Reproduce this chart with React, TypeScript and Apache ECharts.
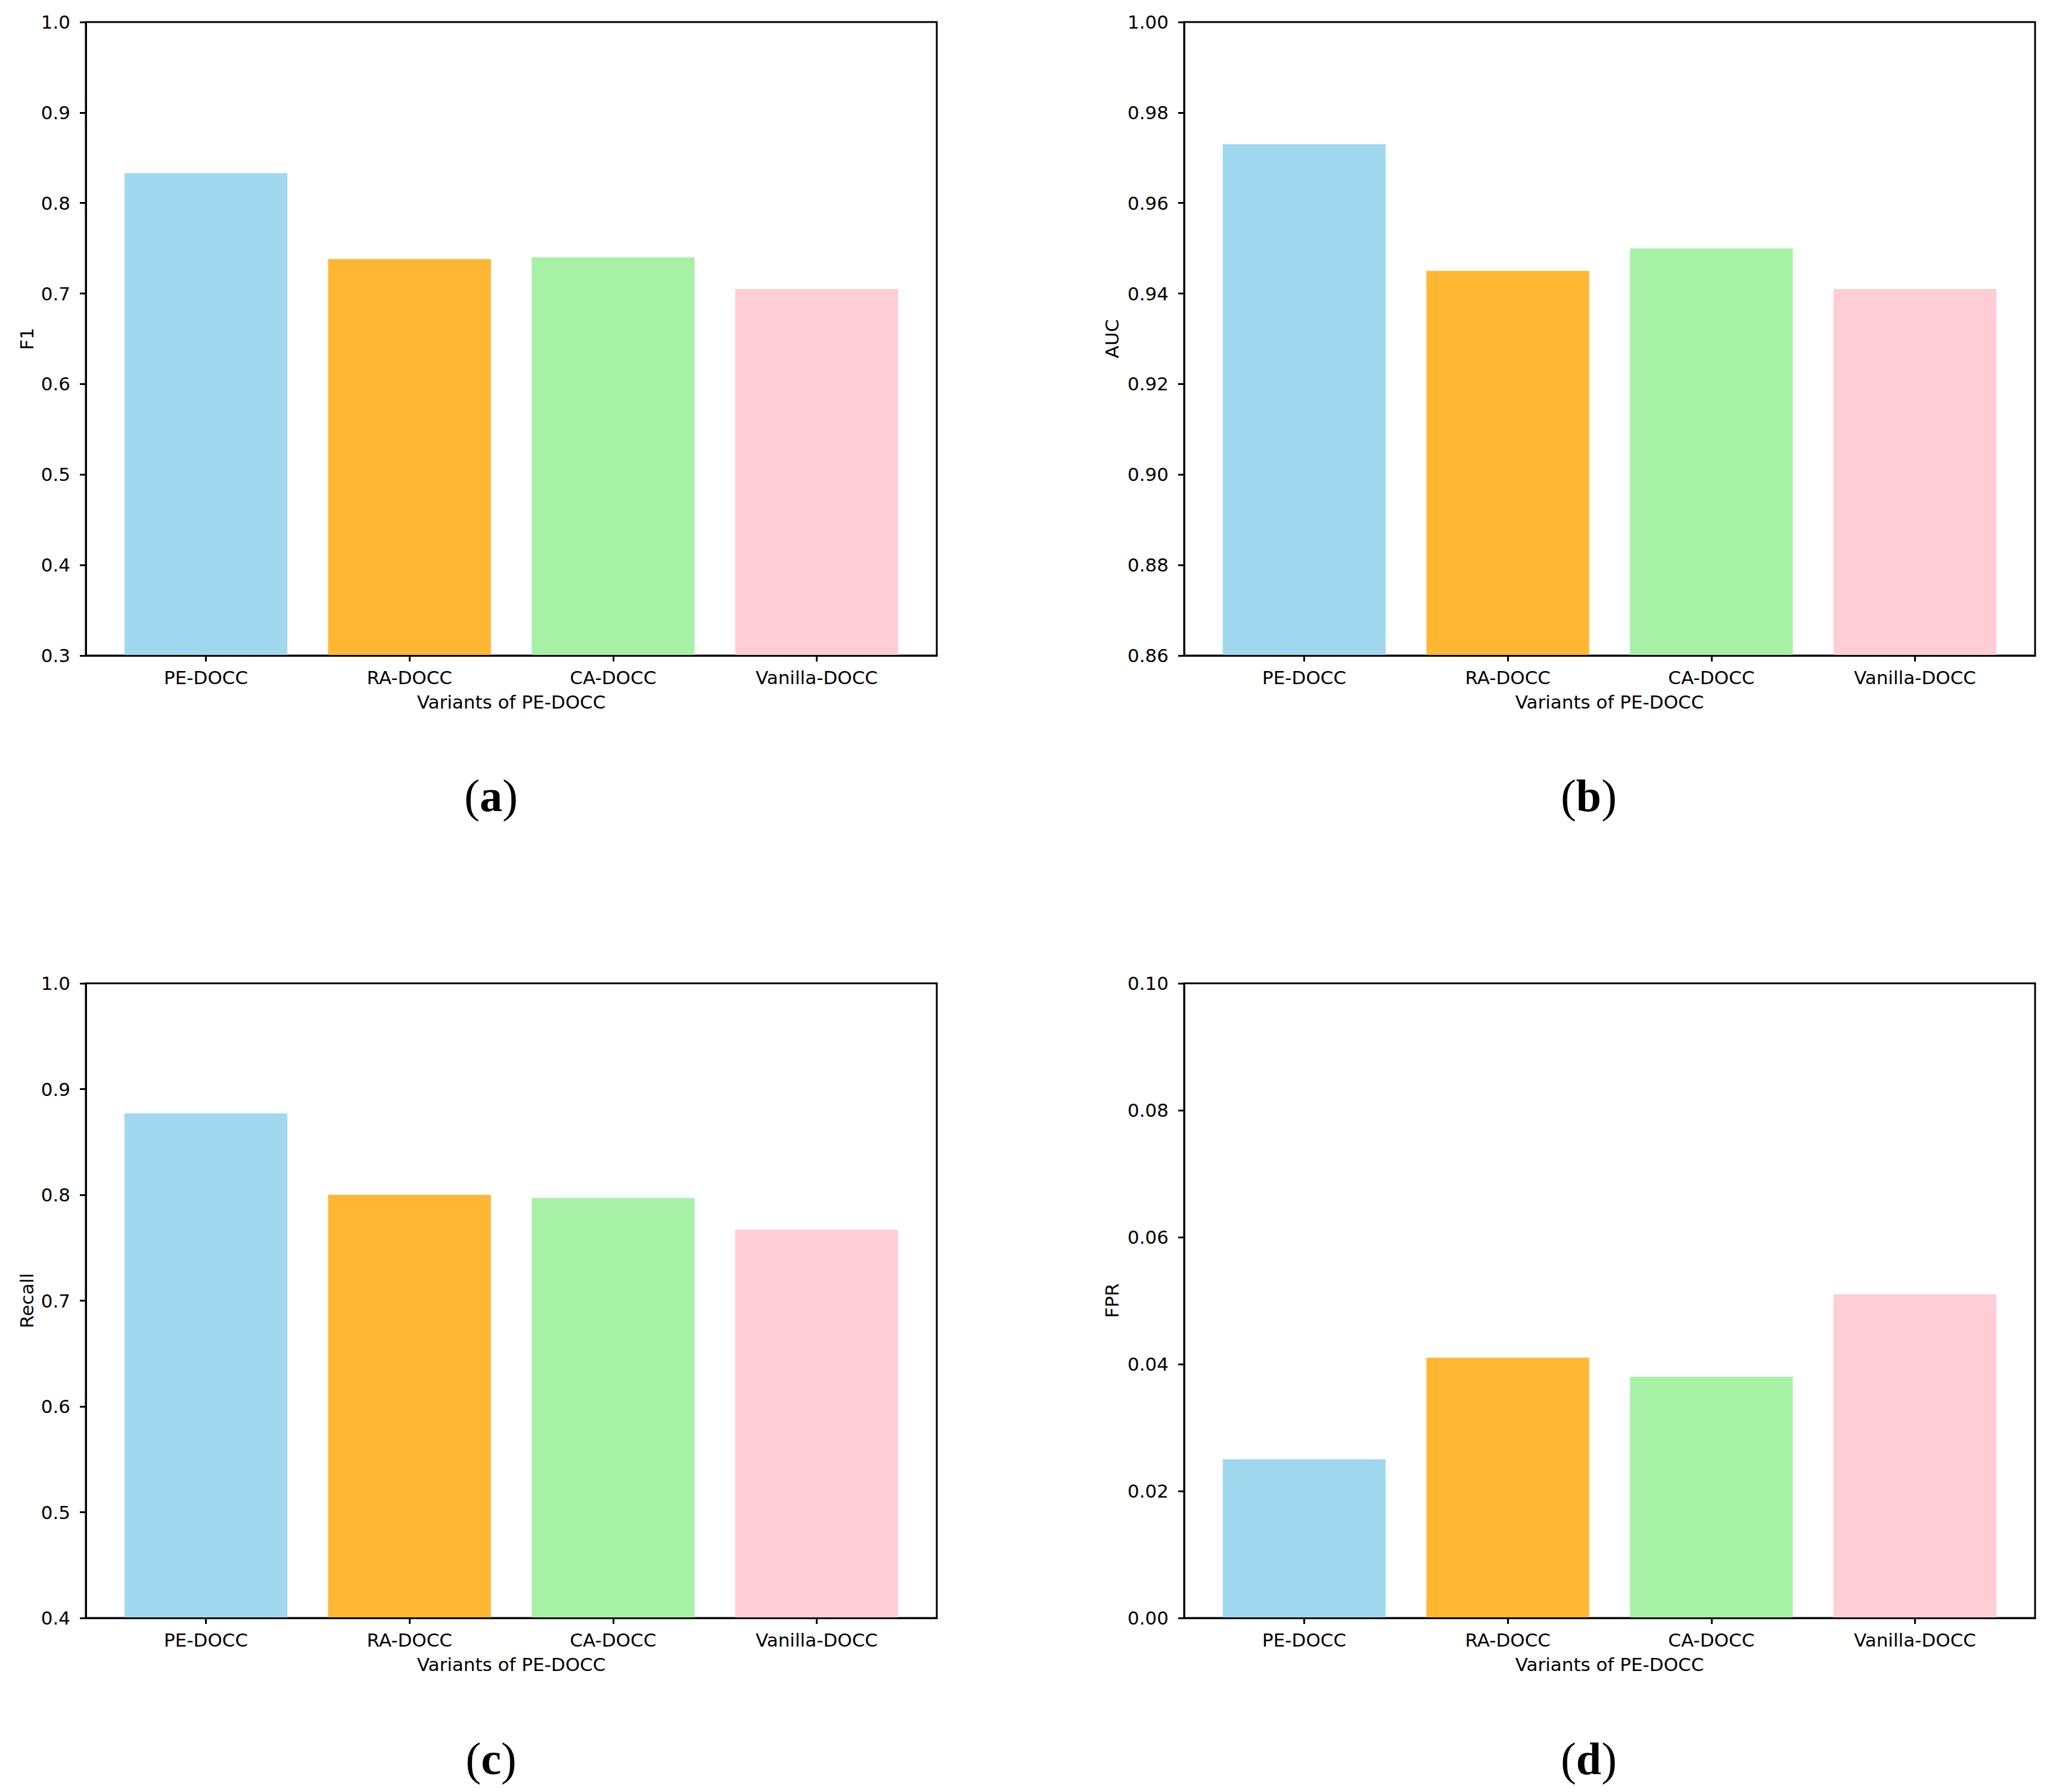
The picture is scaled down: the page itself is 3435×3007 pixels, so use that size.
import { useEffect, useRef } from "react";
import * as echarts from "echarts";

const CATEGORIES = ["PE-DOCC", "RA-DOCC", "CA-DOCC", "Vanilla-DOCC"];
const BAR_COLORS = ["#A0D8EF", "#FFB733", "#A6F1A6", "#FFCDD5"];

const F1_VALUES = [0.833, 0.738, 0.74, 0.705];
const AUC_VALUES = [0.973, 0.945, 0.95, 0.941];
const RECALL_VALUES = [0.877, 0.8, 0.797, 0.767];
const FPR_VALUES = [0.025, 0.041, 0.038, 0.051];

const X_NAME = "Variants of PE-DOCC";
const FONT = "DejaVu Sans";

const PANELS = [
  { metric: "F1", values: F1_VALUES, min: 0.3, max: 1.0, interval: 0.1, digits: 1, left: 144, top: 37, height: 1063, nameGap: 84, caption: "a", capX: 824, capY: 1335 },
  { metric: "AUC", values: AUC_VALUES, min: 0.86, max: 1.0, interval: 0.02, digits: 2, left: 1987, top: 37, height: 1063, nameGap: 106, caption: "b", capX: 2666, capY: 1335 },
  { metric: "Recall", values: RECALL_VALUES, min: 0.4, max: 1.0, interval: 0.1, digits: 1, left: 144, top: 1650, height: 1065, nameGap: 84, caption: "c", capX: 824, capY: 2951 },
  { metric: "FPR", values: FPR_VALUES, min: 0, max: 0.1, interval: 0.02, digits: 2, left: 1987, top: 1650, height: 1065, nameGap: 106, caption: "d", capX: 2666, capY: 2951 }
];

const PLOT_WIDTH = 1428;

export default function App() {
  const rootRef = useRef<HTMLDivElement | null>(null);

  useEffect(() => {
    if (!rootRef.current) return undefined;
    const chart = echarts.init(rootRef.current, undefined, { renderer: "svg" });

    // matplotlib puts bars at 0..3 with width .8 and 5% margins -> xlim -0.59..3.59
    const step = PLOT_WIDTH / 4.18;
    const textStyle = { fontSize: 31, color: "#000", fontFamily: FONT };
    const black = { color: "#000", width: 3 };

    const grid: any[] = [];
    const xAxis: any[] = [];
    const yAxis: any[] = [];
    const series: any[] = [];
    const graphic: any[] = [];

    PANELS.forEach((p, i) => {
      const frame = 2 * i;
      const inner = 2 * i + 1;
      grid.push({
        left: p.left,
        top: p.top,
        width: PLOT_WIDTH,
        height: p.height,
        show: true,
        borderColor: "#000",
        borderWidth: 3,
        backgroundColor: "transparent",
        outerBoundsMode: "none"
      });
      grid.push({
        left: p.left + 0.09 * step,
        top: p.top,
        width: 4 * step,
        height: p.height,
        outerBoundsMode: "none"
      });

      xAxis.push({
        type: "value",
        gridIndex: frame,
        min: 0,
        max: 1,
        z: 10,
        axisLine: { show: true, lineStyle: black },
        axisTick: { show: false },
        axisLabel: { show: false },
        splitLine: { show: false }
      });
      yAxis.push({
        type: "value",
        gridIndex: frame,
        min: p.min,
        max: p.max,
        interval: p.interval,
        z: 10,
        axisLine: { show: true, lineStyle: black },
        axisTick: { show: true, inside: false, length: 10, lineStyle: black },
        axisLabel: {
          ...textStyle,
          margin: 26,
          formatter: (v: number) => v.toFixed(p.digits)
        },
        splitLine: { show: false },
        name: p.metric,
        nameLocation: "middle",
        nameGap: p.nameGap,
        nameMoveOverlap: false,
        nameTextStyle: textStyle
      });

      xAxis.push({
        type: "category",
        gridIndex: inner,
        data: CATEGORIES,
        boundaryGap: true,
        axisLine: { show: false },
        axisTick: { show: true, alignWithLabel: true, length: 10, lineStyle: black },
        axisLabel: { ...textStyle, margin: 21, interval: 0 },
        splitLine: { show: false },
        name: X_NAME,
        nameLocation: "middle",
        nameGap: 62,
        nameMoveOverlap: false,
        nameTextStyle: textStyle
      });
      yAxis.push({
        type: "value",
        gridIndex: inner,
        min: p.min,
        max: p.max,
        show: false
      });

      series.push({
        type: "bar",
        xAxisIndex: inner,
        yAxisIndex: inner,
        barWidth: "80%",
        clip: true,
        silent: true,
        data: p.values.map((v, j) => ({ value: v, itemStyle: { color: BAR_COLORS[j] } }))
      });

      graphic.push({
        type: "text",
        x: p.capX,
        y: p.capY,
        silent: true,
        style: {
          text: `{p|(}{l|${p.caption}}{p|)}`,
          align: "center",
          verticalAlign: "middle",
          rich: {
            p: { fontFamily: "Liberation Serif", fontSize: 78, fill: "#000" },
            l: { fontFamily: "Liberation Serif", fontSize: 76, fontWeight: "bold", fill: "#000" }
          }
        }
      });
    });

    chart.setOption({
      animation: false,
      backgroundColor: "#fff",
      grid,
      xAxis,
      yAxis,
      series,
      graphic
    });

    return () => {
      chart.dispose();
    };
  }, []);

  return (
    <div
      ref={rootRef}
      style={{ position: "fixed", left: 0, top: 0, width: 3435, height: 3007 }}
    />
  );
}
